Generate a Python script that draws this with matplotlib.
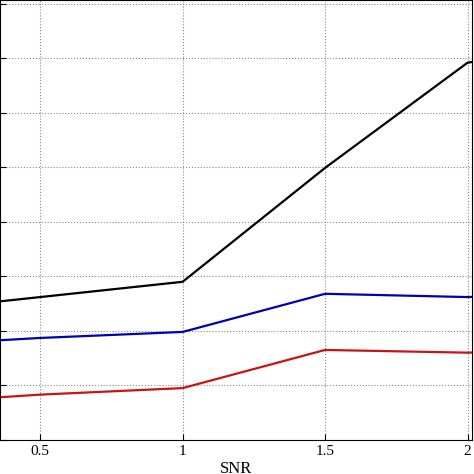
import matplotlib
matplotlib.use('Agg')
import matplotlib.pyplot as plt

snr = [0.0, 0.5, 1.0, 1.5, 2.0, 2.5]
black = [2.34, 2.62, 2.90, 4.99, 6.92, 7.3]
blue = [1.72, 1.87, 1.98, 2.68, 2.62, 2.7]
red = [0.66, 0.83, 0.95, 1.65, 1.60, 1.68]
xticks = [0.5, 1, 1.5, 2]
xlabels = ['0.5', '1', '1.5', '2']

plt.rcParams['font.family'] = ['Liberation Serif', 'DejaVu Serif']

fig = plt.figure(figsize=(4.74, 4.74), dpi=100)
ax = fig.add_axes([0.0, 0.072, 0.996, 0.928])

ax.plot(snr, black, color='black', lw=1.6)
ax.plot(snr, blue, color='#0000b4', lw=1.6)
ax.plot(snr, red, color='#c81414', lw=1.6)

ax.set_xlim(0.359, 2.016)
ax.set_ylim(0, 8.07)
ax.set_xticks(xticks)
ax.set_xticklabels(xlabels, fontsize=11)
ax.set_yticks(range(0, 9))
ax.set_yticklabels([])
ax.tick_params(direction='in', length=4)
ax.grid(True, linestyle=':', color='#888888', lw=0.8)
ax.set_xlabel('SNR', fontsize=12, labelpad=2)

fig.savefig('out.png', dpi=100)
